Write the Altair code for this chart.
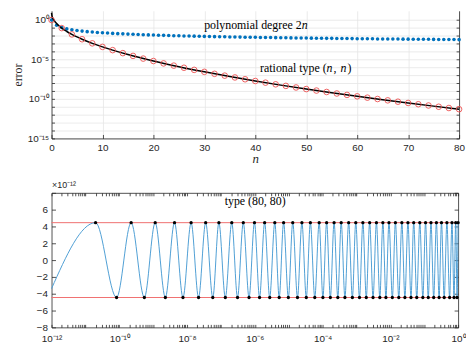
import altair as alt
import pandas as pd

# ---------------- data ----------------
# top panel: polynomial degree 2n (log10 error), n = 0..80
poly_n = list(range(0, 81))
poly_log = [0.0, -0.68, -0.96, -1.13, -1.25, -1.34, -1.41, -1.48, -1.53, -1.58,
            -1.63, -1.66, -1.70, -1.73, -1.76, -1.79, -1.82, -1.84, -1.87, -1.89,
            -1.91, -1.93, -1.95, -1.97, -1.99, -2.00, -2.02, -2.04, -2.05, -2.07,
            -2.08, -2.10, -2.11, -2.12, -2.13, -2.15, -2.16, -2.17, -2.18, -2.19,
            -2.20, -2.21, -2.22, -2.23, -2.24, -2.25, -2.26, -2.27, -2.28, -2.29,
            -2.29, -2.30, -2.31, -2.32, -2.33, -2.33, -2.34, -2.35, -2.35, -2.36,
            -2.37, -2.38, -2.38, -2.39, -2.40, -2.40, -2.41, -2.41, -2.42, -2.43,
            -2.43, -2.44, -2.44, -2.45, -2.45, -2.46, -2.47, -2.47, -2.48, -2.48,
            -2.49]
# rational type (n,n), even n = 0..80
rat_n = list(range(0, 81, 2))
rat_log = [0.0, -1.03, -1.83, -2.44, -2.96, -3.41, -3.82, -4.20, -4.55, -4.89,
           -5.20, -5.50, -5.78, -6.05, -6.32, -6.57, -6.82, -7.05, -7.28, -7.51,
           -7.73, -7.94, -8.15, -8.35, -8.55, -8.75, -8.94, -9.12, -9.31, -9.49,
           -9.67, -9.84, -10.01, -10.18, -10.35, -10.51, -10.67, -10.83, -10.99,
           -11.15, -11.30]
# black asymptotic curve
curve_n = [0, 0.1, 0.25, 0.5, 1, 1.5, 2, 3, 4, 5, 6, 8, 10, 12, 15, 20, 25, 30,
           35, 40, 45, 50, 55, 60, 65, 70, 75, 80]
curve_log = [0.90, 0.47, 0.22, -0.06, -0.46, -0.77, -1.03, -1.46, -1.83, -2.15,
             -2.44, -2.96, -3.41, -3.82, -4.38, -5.20, -5.92, -6.57, -7.17, -7.73,
             -8.25, -8.75, -9.22, -9.67, -10.10, -10.51, -10.91, -11.30]

# bottom panel: error curve of type (80,80), values in units of 1e-12
level = 4.45
start_logx = -12.0
start_val = -3.4
max_logx = [-10.70, -9.65, -8.94, -8.37, -7.88, -7.45, -7.06, -6.68, -6.34, -6.01,
            -5.71, -5.41, -5.15, -4.88, -4.61, -4.36, -4.10, -3.88, -3.66, -3.45,
            -3.23, -3.02, -2.81, -2.61, -2.41, -2.22, -2.04, -1.85, -1.66, -1.48,
            -1.31, -1.13, -0.96, -0.80, -0.64, -0.49, -0.33, -0.18, -0.07, 0.0]
min_logx = [-10.08, -9.26, -8.64, -8.12, -7.66, -7.24, -6.87, -6.51, -6.17, -5.86,
            -5.56, -5.28, -5.01, -4.74, -4.48, -4.23, -3.99, -3.77, -3.55, -3.34,
            -3.12, -2.91, -2.71, -2.51, -2.31, -2.13, -1.94, -1.75, -1.57, -1.39,
            -1.22, -1.04, -0.88, -0.72, -0.56, -0.41, -0.25, -0.12, -0.03]

# tick labels
top_x_ticks = list(range(0, 81, 10))
top_y_major = [0, -5, -10, -15]
bot_x_major = [-12, -10, -8, -6, -4, -2, 0]
bot_y_ticks = [-8, -6, -4, -2, 0, 2, 4, 6, 8]

# ---------------- build tables ----------------
poly_df = pd.DataFrame({"n": poly_n, "err": [10.0 ** v for v in poly_log]})
rat_df = pd.DataFrame({"n": rat_n, "err": [10.0 ** v for v in rat_log]})
curve_df = pd.DataFrame({"n": curve_n, "err": [10.0 ** v for v in curve_log]})

rows = [(start_logx, start_val)] + [(v, level) for v in max_logx] + [(v, -level) for v in min_logx]
rows.sort(key=lambda r: r[0])
wave_df = pd.DataFrame({"x": [10.0 ** r[0] for r in rows], "y": [r[1] for r in rows]})
ext_rows = [(v, level) for v in max_logx] + [(v, -level) for v in min_logx]
ext_df = pd.DataFrame({"x": [10.0 ** r[0] for r in ext_rows], "y": [r[1] for r in ext_rows]})
lvl_df = pd.DataFrame({"y": [level, -level]})

SUP = str.maketrans("-0123456789", "⁻⁰¹²³⁴⁵⁶⁷⁸⁹")


def pow_label(k):
    return "10" + str(k).translate(SUP)


def label_expr(exps):
    expr = "''"
    for k in exps:
        v = 10.0 ** k
        expr = f"(datum.value > {v * 0.95:.6g} && datum.value < {v * 1.05:.6g}) ? '{pow_label(k)}' : " + expr
    return expr


AX = "#262626"
GRID = "#e6e6e6"
SANS = "Liberation Sans"
SERIF = "Liberation Serif"

W1, H1 = 412, 129
W2, H2 = 411, 136

# ---------------- top panel ----------------
xs_top = alt.Scale(domain=[0, 80], nice=False)
ys_top = alt.Scale(type="log", domain=[1e-15, 10 ** 1.16], nice=False)
top_decades = [10.0 ** k for k in range(-15, 1)]

x_main = alt.Axis(orient="bottom", values=top_x_ticks, grid=True, gridColor=GRID,
                  ticks=False, domainColor=AX, labelPadding=4, labelFlush=False,
                  title="n", titleFont=SERIF, titleFontStyle="italic", titleFontSize=13,
                  titleFontWeight="normal", titleColor=AX, titlePadding=0)
y_main = alt.Axis(orient="left", values=top_decades, labelExpr=label_expr(top_y_major),
                  grid=True, gridColor=GRID, ticks=False, domainColor=AX,
                  labelPadding=3, labelFlush=False, title="error", titleFont=SERIF,
                  titleFontSize=12, titleFontWeight="normal", titleColor=AX,
                  titlePadding=3)
x_tick_in = alt.Axis(orient="top", offset=-H1, values=top_x_ticks, labels=False,
                     domain=False, grid=False, tickSize=4, tickColor=AX, title=None)
y_tick_left = alt.Axis(orient="right", offset=-W1, values=top_decades, labels=False,
                       domain=False, grid=False, tickSize=3, tickColor=AX, title=None)
y_tick_right = alt.Axis(orient="left", offset=-W1, values=top_decades, labels=False,
                        domain=True, domainColor=AX, grid=False, tickSize=3,
                        tickColor=AX, title=None)

blue = alt.Chart(poly_df).mark_circle(size=13, color="#0072BD", opacity=1).encode(
    x=alt.X("n:Q", scale=xs_top, axis=x_main),
    y=alt.Y("err:Q", scale=ys_top, axis=y_main),
)
black = alt.Chart(curve_df).mark_line(color="black", strokeWidth=1.5,
                                      interpolate="monotone").encode(
    x=alt.X("n:Q", scale=xs_top, axis=None),
    y=alt.Y("err:Q", scale=ys_top, axis=y_tick_right),
)
red = alt.Chart(rat_df).mark_point(shape="circle", filled=False, size=32,
                                   color="#EC5050", strokeWidth=0.9, opacity=1).encode(
    x=alt.X("n:Q", scale=xs_top, axis=x_tick_in),
    y=alt.Y("err:Q", scale=ys_top, axis=y_tick_left),
)

ann_poly = pd.DataFrame({"n": [49.1], "err": [10 ** -0.6]})
ann_rat = pd.DataFrame({"n": [54.0], "err": [10 ** -6.09]})


def txt(df, text, dx=0, italic=False, align="left"):
    kw = dict(text=text, font=SERIF, fontSize=12, color="black", align=align,
              baseline="middle", dx=dx)
    if italic:
        kw["fontStyle"] = "italic"
    return alt.Chart(df).mark_text(**kw).encode(
        x=alt.X("n:Q", scale=xs_top, axis=None),
        y=alt.Y("err:Q", scale=ys_top, axis=None),
    )


texts_top = [
    txt(ann_poly, "polynomial degree 2", align="right"),
    txt(ann_poly, "n", italic=True),
    txt(ann_rat, "rational type (", align="right"),
    txt(ann_rat, "n", italic=True),
    txt(ann_rat, ",", dx=7),
    txt(ann_rat, "n", dx=14, italic=True),
    txt(ann_rat, ")", dx=21),
]

top = alt.layer(blue, black, red, *texts_top).resolve_axis(
    x="independent", y="independent").properties(width=W1, height=H1)

# ---------------- bottom panel ----------------
xs_bot = alt.Scale(type="log", domain=[1e-12, 1], nice=False)
ys_bot = alt.Scale(domain=[-8, 8], nice=False)
bot_x_all = [m * 10.0 ** k for k in range(-12, 0) for m in range(1, 10)] + [1.0]

bx_main = alt.Axis(orient="bottom", values=[10.0 ** k for k in bot_x_major],
                   labelExpr=label_expr(bot_x_major), ticks=False, grid=False,
                   domainColor=AX, labelPadding=6, labelFlush=False, title=None)
by_main = alt.Axis(orient="left", values=bot_y_ticks,
                   labelExpr="datum.value == 8 ? '' : datum.label", ticks=False,
                   grid=False, domainColor=AX, labelPadding=4, labelFlush=False,
                   title="×10⁻¹²", titleAngle=0, titleAlign="left",
                   titleBaseline="bottom", titleX=0, titleY=-3, titleFont=SANS,
                   titleFontSize=9, titleFontWeight="normal", titleColor=AX)
bx_tick_bottom = alt.Axis(orient="top", offset=-H2, values=bot_x_all, labels=False,
                          domain=False, grid=False, tickSize=3, tickColor=AX, title=None)
bx_tick_top = alt.Axis(orient="bottom", offset=-H2, values=bot_x_all, labels=False,
                       domain=True, domainColor=AX, grid=False, tickSize=3,
                       tickColor=AX, title=None)
by_tick_left = alt.Axis(orient="right", offset=-W2, values=bot_y_ticks, labels=False,
                        domain=False, grid=False, tickSize=4, tickColor=AX, title=None)
by_tick_right = alt.Axis(orient="left", offset=-W2, values=bot_y_ticks, labels=False,
                         domain=True, domainColor=AX, grid=False, tickSize=4,
                         tickColor=AX, title=None)

rules = alt.Chart(lvl_df).mark_rule(color="#F07070", strokeWidth=1).encode(
    y=alt.Y("y:Q", scale=ys_bot, axis=None),
)
wave = alt.Chart(wave_df).mark_line(color="#4F9FD5", strokeWidth=1,
                                    interpolate="monotone").encode(
    x=alt.X("x:Q", scale=xs_bot, axis=bx_main),
    y=alt.Y("y:Q", scale=ys_bot, axis=by_main),
)
dots = alt.Chart(ext_df).mark_circle(size=11, color="black", opacity=1).encode(
    x=alt.X("x:Q", scale=xs_bot, axis=bx_tick_bottom),
    y=alt.Y("y:Q", scale=ys_bot, axis=by_tick_left),
)
ann_bot = pd.DataFrame({"x": [10 ** -5.99], "y": [7.0]})
type_txt = alt.Chart(ann_bot).mark_text(text="type (80, 80)", font=SERIF, fontSize=12,
                                        color="black", align="center",
                                        baseline="middle").encode(
    x=alt.X("x:Q", scale=xs_bot, axis=bx_tick_top),
    y=alt.Y("y:Q", scale=ys_bot, axis=by_tick_right),
)

bottom = alt.layer(rules, wave, dots, type_txt).resolve_axis(
    x="independent", y="independent").properties(width=W2, height=H2)

chart = alt.vconcat(top, bottom, spacing=55, bounds="flush").properties(
    padding={"left": 3, "top": 0, "right": 0, "bottom": 0}
).configure_view(stroke=None).configure_axis(
    labelFont=SANS, labelFontSize=10, labelColor=AX, domainWidth=0.8, tickWidth=0.8,
    gridWidth=0.8
)

chart.save("out.html", embed_options={"renderer": "svg", "actions": False})
